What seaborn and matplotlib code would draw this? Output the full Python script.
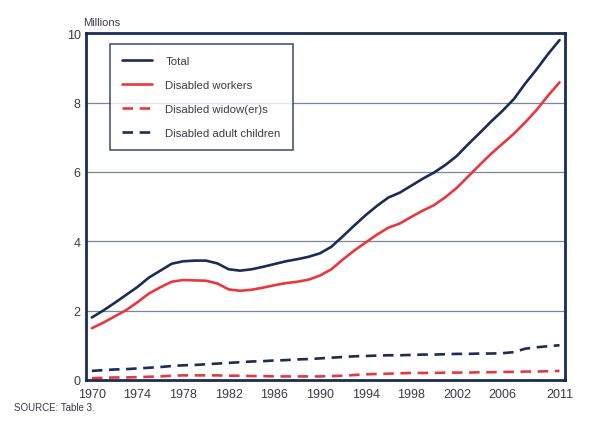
import pandas as pd
import numpy as np
import matplotlib
matplotlib.use("Agg")
import matplotlib.pyplot as plt
import seaborn as sns

# Disabled beneficiaries, millions
years = list(range(1970, 2012))
total = [1.80, 2.00, 2.22, 2.45, 2.68, 2.95, 3.15, 3.35, 3.42, 3.44,
         3.44, 3.36, 3.19, 3.15, 3.19, 3.26, 3.34, 3.42, 3.48, 3.55,
         3.65, 3.84, 4.14, 4.45, 4.75, 5.02, 5.26, 5.40, 5.60, 5.80,
         5.98, 6.20, 6.46, 6.80, 7.12, 7.45, 7.76, 8.10, 8.55, 8.96,
         9.40, 9.80]
workers = [1.49, 1.65, 1.83, 2.01, 2.24, 2.49, 2.67, 2.83, 2.88, 2.87,
           2.86, 2.78, 2.61, 2.57, 2.60, 2.66, 2.73, 2.79, 2.83, 2.89,
           3.01, 3.19, 3.47, 3.73, 3.96, 4.19, 4.39, 4.51, 4.70, 4.88,
           5.04, 5.27, 5.54, 5.87, 6.20, 6.52, 6.81, 7.10, 7.43, 7.79,
           8.20, 8.58]
widows = [0.05, 0.06, 0.07, 0.07, 0.08, 0.09, 0.10, 0.12, 0.13, 0.13,
          0.13, 0.13, 0.12, 0.12, 0.11, 0.11, 0.10, 0.10, 0.10, 0.10,
          0.10, 0.11, 0.12, 0.14, 0.16, 0.17, 0.18, 0.19, 0.20, 0.20,
          0.20, 0.21, 0.21, 0.21, 0.22, 0.22, 0.23, 0.23, 0.24, 0.24,
          0.25, 0.26]
children = [0.26, 0.28, 0.30, 0.31, 0.33, 0.35, 0.37, 0.40, 0.42, 0.43,
            0.45, 0.47, 0.49, 0.51, 0.53, 0.54, 0.56, 0.57, 0.59, 0.60,
            0.62, 0.64, 0.66, 0.68, 0.69, 0.70, 0.71, 0.71, 0.72, 0.73,
            0.73, 0.74, 0.75, 0.75, 0.76, 0.76, 0.77, 0.80, 0.90, 0.94,
            0.97, 1.00]
series = ["Total", "Disabled workers", "Disabled widow(er)s", "Disabled adult children"]
xticks = [1970, 1974, 1978, 1982, 1986, 1990, 1994, 1998, 2002, 2006, 2011]

navy = "#1b2c55"
red = "#e8383d"
textc = "#3a3a4a"

df = pd.DataFrame({"year": years, series[0]: total, series[1]: workers,
                   series[2]: widows, series[3]: children})
long = df.melt(id_vars="year", var_name="series", value_name="value")

sns.set_style("white")
plt.rcParams["font.family"] = ["Liberation Sans", "DejaVu Sans"]

fig = plt.figure(figsize=(5.9, 4.27), dpi=100)
ax = fig.add_axes([0.146, 0.108, 0.812, 0.812])

palette = {series[0]: navy, series[1]: red, series[2]: red, series[3]: navy}
dashes = {series[0]: "", series[1]: "", series[2]: (4, 2.5), series[3]: (4, 2.5)}
sns.lineplot(data=long, x="year", y="value", hue="series", style="series",
             hue_order=series, style_order=series, palette=palette,
             dashes=dashes, linewidth=1.9, ax=ax)

ax.set_xlim(1969.5, 2011.5)
ax.set_ylim(0, 10)
ax.set_xticks(xticks)
ax.set_yticks([0, 2, 4, 6, 8, 10])
ax.set_xlabel("")
ax.set_ylabel("")
for y in [2, 4, 6, 8]:
    ax.axhline(y, color="#7a8799", linewidth=0.9, zorder=0)
ax.tick_params(axis="y", length=0, labelsize=9, colors=textc, pad=4)
ax.tick_params(axis="x", direction="in", length=3, width=1, color=navy,
               labelsize=9, labelcolor=textc, pad=6)
for sp in ax.spines.values():
    sp.set_color(navy)
    sp.set_linewidth(2)

leg = ax.legend(loc="upper left", bbox_to_anchor=(0.05, 0.97), fontsize=8.2,
                frameon=True, fancybox=False, borderpad=1.05, labelspacing=1.25,
                handlelength=2.6, handletextpad=1.2, borderaxespad=0)
leg.get_frame().set_edgecolor(navy)
leg.get_frame().set_linewidth(1.2)
for t in leg.get_texts():
    t.set_color(textc)

fig.text(0.141, 0.935, "Millions", fontsize=8, color=textc, ha="left", va="bottom")
fig.text(0.024, 0.044, "SOURCE: Table 3.", fontsize=7, color=textc, ha="left", va="center")

fig.savefig("out.png", dpi=100)
